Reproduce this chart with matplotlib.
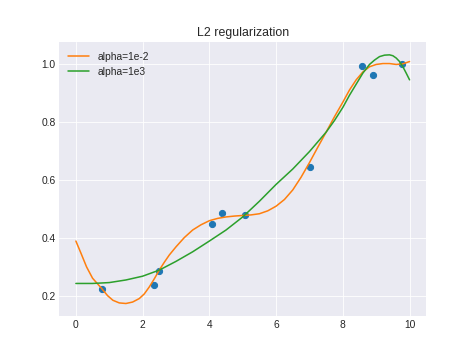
import matplotlib
matplotlib.use("Agg")
import matplotlib.pyplot as plt

plt.style.use("seaborn-v0_8-darkgrid")
plt.rcParams['font.family'] = 'sans-serif'
plt.rcParams['font.sans-serif'] = ['Liberation Sans', 'DejaVu Sans']

# Data points
pts_x = [0.78, 2.34, 2.49, 4.07, 4.39, 5.07, 7.03, 8.56, 8.89, 9.77]
pts_y = [0.226, 0.239, 0.288, 0.447, 0.485, 0.478, 0.644, 0.991, 0.961, 1.000]

# alpha=1e-2 curve
orange_x = [0.0, 0.16, 0.32, 0.5, 0.77, 0.95, 1.11, 1.3, 1.5, 1.7, 1.9, 2.05, 2.2,
            2.35, 2.5, 2.65, 2.8, 3.0, 3.25, 3.5, 3.75, 4.0, 4.25, 4.5, 4.75,
            5.0, 5.25, 5.5, 5.75, 6.0, 6.25, 6.5, 6.75, 7.0, 7.25, 7.5, 7.75,
            8.0, 8.2, 8.4, 8.6, 8.8, 9.0, 9.2, 9.4, 9.6, 9.8, 10.0]
orange_y = [0.390, 0.346, 0.301, 0.262, 0.227, 0.202, 0.186, 0.177, 0.175, 0.180,
            0.192, 0.208, 0.232, 0.260, 0.290, 0.317, 0.342, 0.370, 0.402, 0.428,
            0.446, 0.460, 0.468, 0.473, 0.476, 0.478, 0.480, 0.484, 0.494, 0.510,
            0.533, 0.566, 0.610, 0.660, 0.713, 0.765, 0.818, 0.868, 0.910, 0.945,
            0.972, 0.990, 0.998, 1.001, 1.001, 0.998, 1.000, 1.008]

# alpha=1e3 curve
green_x = [0.0, 0.5, 1.0, 1.5, 2.0, 2.5, 3.0, 3.5, 4.0, 4.5, 5.0, 5.5, 6.0, 6.5,
           7.0, 7.5, 7.75, 8.0, 8.2, 8.4, 8.6, 8.8, 8.95, 9.1, 9.25, 9.4, 9.5,
           9.6, 9.7, 9.8, 9.9, 10.0]
green_y = [0.244, 0.244, 0.247, 0.256, 0.269, 0.290, 0.320, 0.353, 0.390, 0.428,
           0.473, 0.527, 0.585, 0.638, 0.698, 0.765, 0.805, 0.850, 0.892, 0.930,
           0.968, 0.998, 1.013, 1.025, 1.030, 1.031, 1.028, 1.020, 1.008, 0.990,
           0.968, 0.945]

labels = ["alpha=1e-2", "alpha=1e3"]

fig, ax = plt.subplots(figsize=(6.4, 4.8), dpi=74)
ax.scatter(pts_x, pts_y, color="C0")
ax.plot(orange_x, orange_y, color="C1", label=labels[0])
ax.plot(green_x, green_y, color="C2", label=labels[1])
ax.set_title("L2 regularization")
ax.legend(loc="upper left")
fig.savefig("out.png", dpi=74)
